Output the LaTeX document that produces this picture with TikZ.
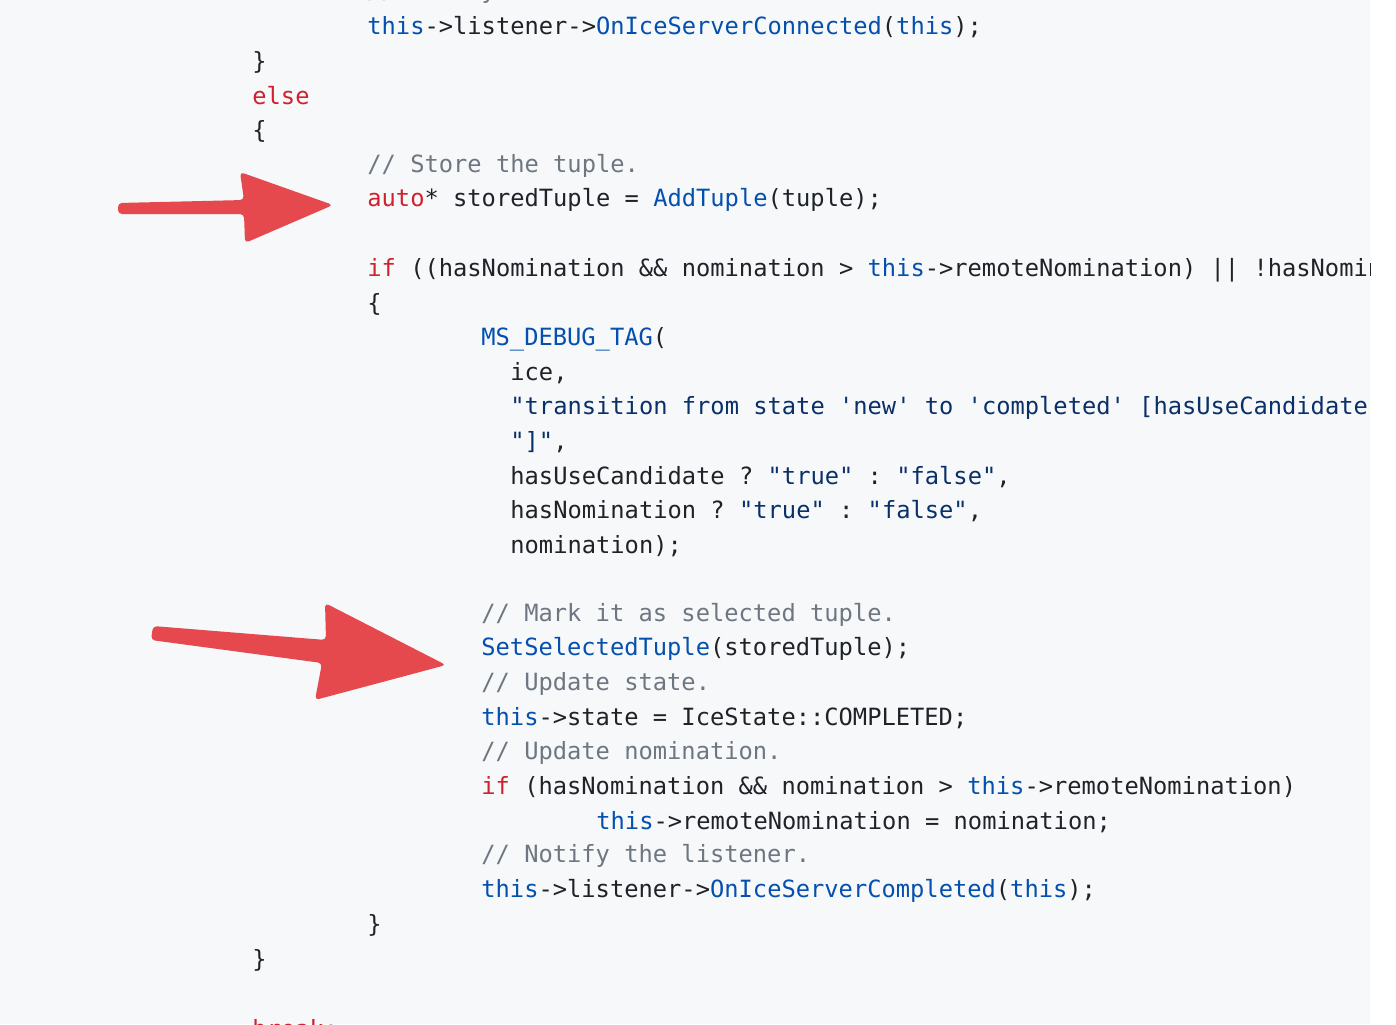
\documentclass[tikz,border=0pt]{standalone}
\usepackage{fontspec}
\setmonofont{DejaVu Sans Mono}
\definecolor{bg}{HTML}{F6F8FA}
\definecolor{kw}{HTML}{CF222E}
\definecolor{fn}{HTML}{0550AE}
\definecolor{cm}{HTML}{6E7781}
\definecolor{st}{HTML}{0A3069}
\definecolor{tx}{HTML}{1F2328}
\definecolor{arr}{HTML}{E5484D}
\newcommand{\K}[1]{\textcolor{kw}{#1}}
\newcommand{\F}[1]{\textcolor{fn}{#1}}
\newcommand{\C}[1]{\textcolor{cm}{#1}}
\newcommand{\Sg}[1]{\textcolor{st}{#1}}
\begin{document}
\begin{tikzpicture}[x=0.5pt,y=-0.5pt,
  code/.style={anchor=west,inner sep=0pt,text=tx,font=\ttfamily\fontsize{11.87}{14}\selectfont}]
\useasboundingbox (0,0) rectangle (1396,1024);
\fill[white] (0,0) rectangle (1396,1024);
\fill[bg] (0,0) rectangle (1370,1024);
\begin{scope}
\clip (0,0) rectangle (1370,1024);
\node[code] (l0) at (367,-8) {\C{// Notify the listener.}};
\node[code] (l1) at (367,27) {\F{this}->listener->\F{OnIceServerConnected}(\F{this});};
\node[code] (l2) at (252,62) {\}};
\node[code] (l3) at (252,96) {\K{else}};
\node[code] (l4) at (252,131) {\{};
\node[code] (l5) at (367,166) {\C{// Store the tuple.}};
\node[code] (l6) at (367,200) {\K{auto}* storedTuple = \F{AddTuple}(tuple);};
\node[code] (l7) at (367,270) {\K{if} ((hasNomination \&\& nomination > \F{this}->remoteNomination) || !hasNomination)};
\node[code] (l8) at (367,304) {\{};
\node[code] (l9) at (481,339) {\F{MS\_DEBUG\_TAG}(};
\node[code] (l10) at (510,373) {ice,};
\node[code] (l11) at (510,408) {\Sg{"transition from state 'new' to 'completed' [hasUseCandidate:\%s"}};
\node[code] (l12) at (510,442) {\Sg{"]"},};
\node[code] (l13) at (510,477) {hasUseCandidate ? \Sg{"true"} : \Sg{"false"},};
\node[code] (l14) at (510,511) {hasNomination ? \Sg{"true"} : \Sg{"false"},};
\node[code] (l15) at (510,546) {nomination);};
\node[code] (l16) at (481,615) {\C{// Mark it as selected tuple.}};
\node[code] (l17) at (481,649) {\F{SetSelectedTuple}(storedTuple);};
\node[code] (l18) at (481,684) {\C{// Update state.}};
\node[code] (l19) at (481,718) {\F{this}->state = IceState::COMPLETED;};
\node[code] (l20) at (481,753) {\C{// Update nomination.}};
\node[code] (l21) at (481,787) {\K{if} (hasNomination \&\& nomination > \F{this}->remoteNomination)};
\node[code] (l22) at (596,822) {\F{this}->remoteNomination = nomination;};
\node[code] (l23) at (481,856) {\C{// Notify the listener.}};
\node[code] (l24) at (481,891) {\F{this}->listener->\F{OnIceServerCompleted}(\F{this});};
\node[code] (l25) at (367,925) {\}};
\node[code] (l26) at (252,960) {\}};
\node[code] (l27) at (252,1030) {\K{break};};
\end{scope}
% arrows
\fill[arr,rounded corners=2pt] (118,203) -- (244,200) -- (240,172) -- (333,205) -- (245,243) -- (244,214) -- (118,214) -- cycle;
\fill[arr,rounded corners=2pt] (153,626) -- (326,640) -- (325,603) -- (446,665) -- (315,700) -- (322,663) -- (151,640) -- cycle;
\end{tikzpicture}
\end{document}
